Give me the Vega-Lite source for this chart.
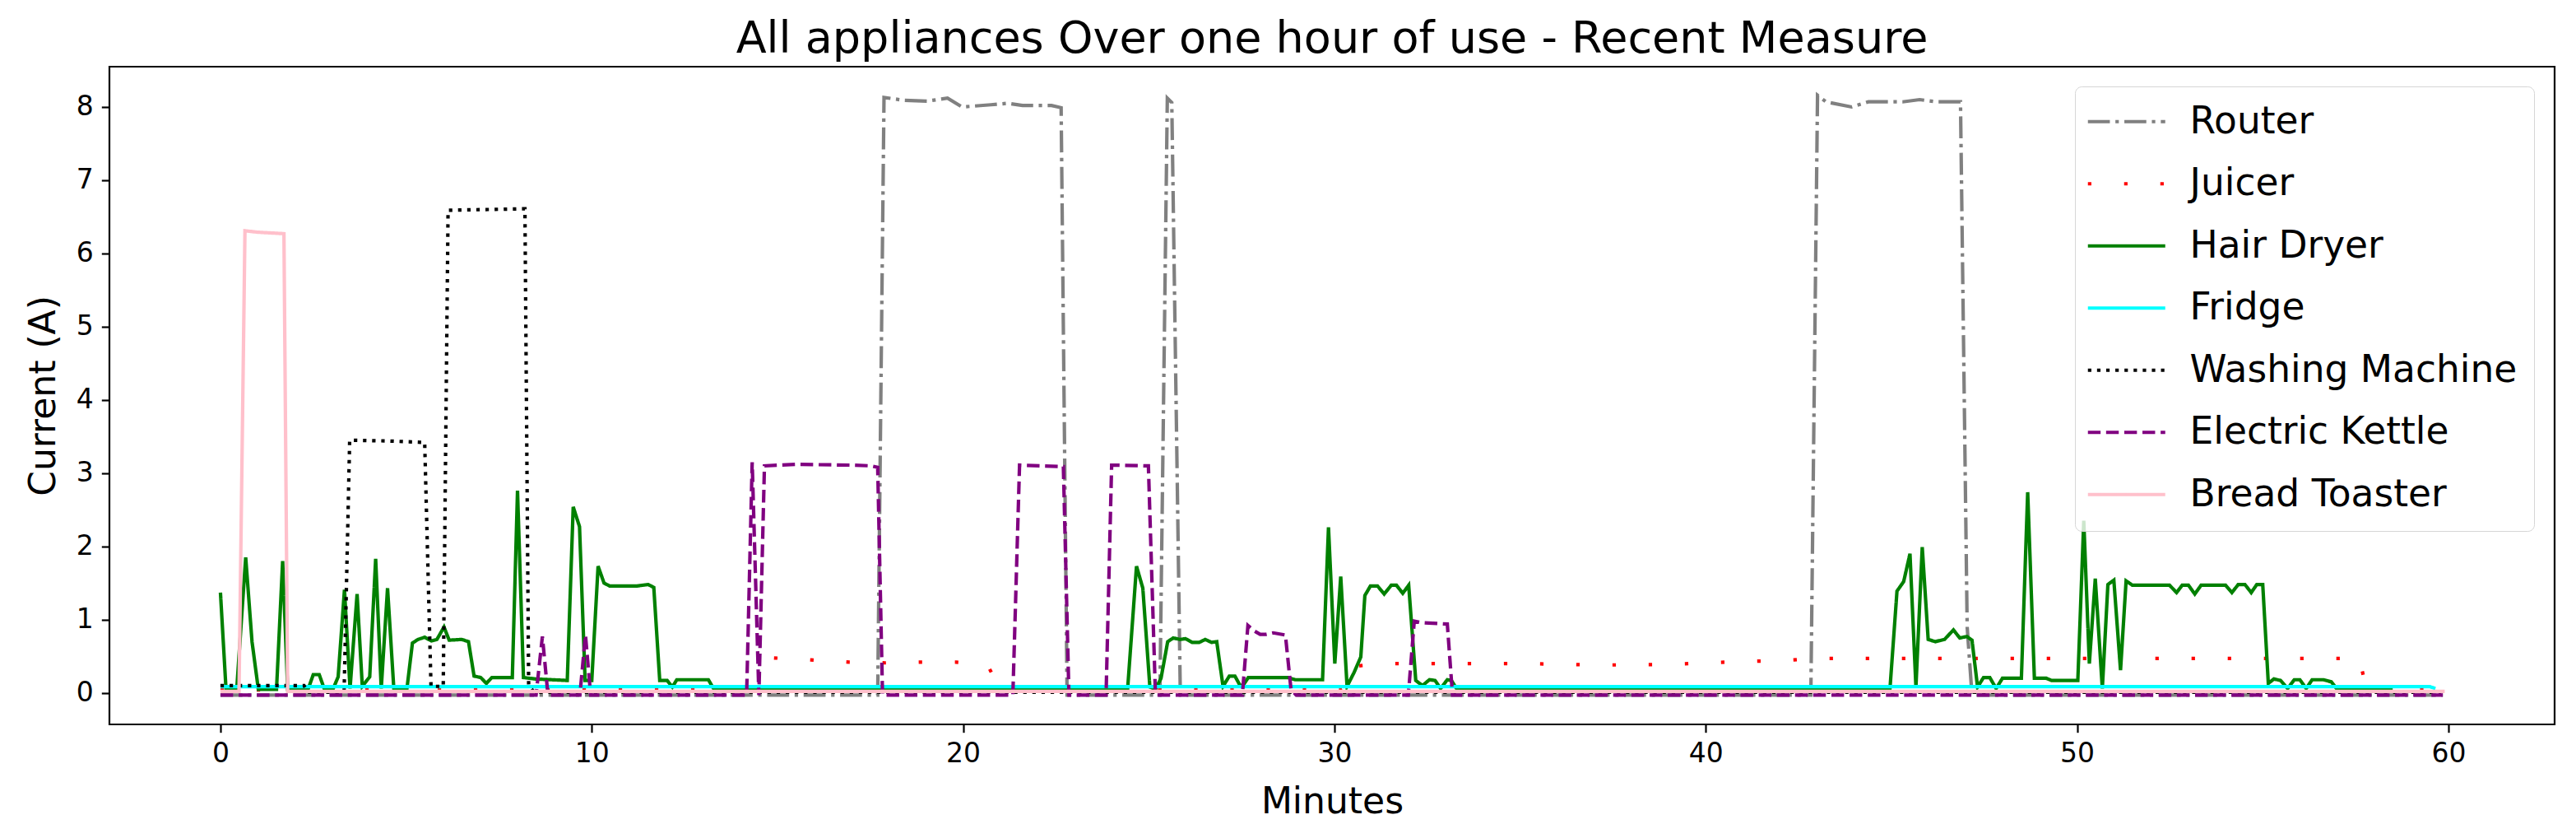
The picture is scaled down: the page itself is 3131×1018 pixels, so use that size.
{
  "$schema": "https://vega.github.io/schema/vega-lite/v6.json",
  "width": 2972,
  "height": 799,
  "autosize": {"type": "none"},
  "padding": {"left": 133, "top": 81, "right": 26, "bottom": 138},
  "background": "white",
  "title": {
    "text": "All appliances Over one hour of use - Recent Measure",
    "font": "DejaVu Sans",
    "fontSize": 54,
    "fontWeight": "normal",
    "color": "black",
    "anchor": "middle",
    "frame": "group",
    "baseline": "bottom",
    "offset": 7,
    "dy": 55
  },
  "data": {
    "values": [
      {"s": "Router", "t": 0, "v": -0.03},
      {"s": "Router", "t": 17.7, "v": -0.03},
      {"s": "Router", "t": 17.87, "v": 8.13},
      {"s": "Router", "t": 18.42, "v": 8.09},
      {"s": "Router", "t": 19.03, "v": 8.08},
      {"s": "Router", "t": 19.58, "v": 8.12},
      {"s": "Router", "t": 19.97, "v": 8.0},
      {"s": "Router", "t": 20.75, "v": 8.03},
      {"s": "Router", "t": 21.21, "v": 8.05},
      {"s": "Router", "t": 21.6, "v": 8.02},
      {"s": "Router", "t": 22.38, "v": 8.02},
      {"s": "Router", "t": 22.64, "v": 7.99},
      {"s": "Router", "t": 22.8, "v": -0.03},
      {"s": "Router", "t": 25.3, "v": -0.03},
      {"s": "Router", "t": 25.5, "v": 8.12},
      {"s": "Router", "t": 25.62, "v": 8.06},
      {"s": "Router", "t": 25.85, "v": -0.03},
      {"s": "Router", "t": 42.83, "v": -0.03},
      {"s": "Router", "t": 43.01, "v": 8.16},
      {"s": "Router", "t": 43.24, "v": 8.07},
      {"s": "Router", "t": 43.93, "v": 8.0},
      {"s": "Router", "t": 44.38, "v": 8.07},
      {"s": "Router", "t": 44.84, "v": 8.07},
      {"s": "Router", "t": 45.3, "v": 8.07},
      {"s": "Router", "t": 45.76, "v": 8.1},
      {"s": "Router", "t": 46.21, "v": 8.07},
      {"s": "Router", "t": 46.86, "v": 8.07},
      {"s": "Router", "t": 47.04, "v": 0.9},
      {"s": "Router", "t": 47.17, "v": -0.03},
      {"s": "Router", "t": 59.85, "v": -0.03},

      {"s": "Juicer", "t": 0, "v": 0.04},
      {"s": "Juicer", "t": 14.6, "v": 0.04},
      {"s": "Juicer", "t": 14.8, "v": 0.48},
      {"s": "Juicer", "t": 15.9, "v": 0.45},
      {"s": "Juicer", "t": 16.94, "v": 0.42},
      {"s": "Juicer", "t": 17.9, "v": 0.41},
      {"s": "Juicer", "t": 18.85, "v": 0.42},
      {"s": "Juicer", "t": 19.81, "v": 0.42},
      {"s": "Juicer", "t": 20.3, "v": 0.4},
      {"s": "Juicer", "t": 20.7, "v": 0.34},
      {"s": "Juicer", "t": 21.0, "v": 0.04},
      {"s": "Juicer", "t": 30.2, "v": 0.04},
      {"s": "Juicer", "t": 30.45, "v": 0.36},
      {"s": "Juicer", "t": 31.3, "v": 0.4},
      {"s": "Juicer", "t": 32.26, "v": 0.4},
      {"s": "Juicer", "t": 33.26, "v": 0.4},
      {"s": "Juicer", "t": 35.2, "v": 0.4},
      {"s": "Juicer", "t": 37.15, "v": 0.38},
      {"s": "Juicer", "t": 39.08, "v": 0.39},
      {"s": "Juicer", "t": 40.05, "v": 0.41},
      {"s": "Juicer", "t": 41.03, "v": 0.43},
      {"s": "Juicer", "t": 42.0, "v": 0.44},
      {"s": "Juicer", "t": 42.97, "v": 0.47},
      {"s": "Juicer", "t": 44.0, "v": 0.47},
      {"s": "Juicer", "t": 57.6, "v": 0.47},
      {"s": "Juicer", "t": 57.8, "v": 0.04},
      {"s": "Juicer", "t": 59.8, "v": 0.04},

      {"s": "Hair Dryer", "t": 0, "v": 1.37},
      {"s": "Hair Dryer", "t": 0.15, "v": 0.05},
      {"s": "Hair Dryer", "t": 0.44, "v": 0.06},
      {"s": "Hair Dryer", "t": 0.68, "v": 1.85},
      {"s": "Hair Dryer", "t": 0.85, "v": 0.7},
      {"s": "Hair Dryer", "t": 1.02, "v": 0.05},
      {"s": "Hair Dryer", "t": 1.51, "v": 0.05},
      {"s": "Hair Dryer", "t": 1.675, "v": 1.8},
      {"s": "Hair Dryer", "t": 1.81, "v": 0.05},
      {"s": "Hair Dryer", "t": 2.36, "v": 0.05},
      {"s": "Hair Dryer", "t": 2.5, "v": 0.25},
      {"s": "Hair Dryer", "t": 2.66, "v": 0.25},
      {"s": "Hair Dryer", "t": 2.8, "v": 0.05},
      {"s": "Hair Dryer", "t": 3.03, "v": 0.05},
      {"s": "Hair Dryer", "t": 3.17, "v": 0.22},
      {"s": "Hair Dryer", "t": 3.34, "v": 1.41},
      {"s": "Hair Dryer", "t": 3.49, "v": 0.06},
      {"s": "Hair Dryer", "t": 3.68, "v": 1.35},
      {"s": "Hair Dryer", "t": 3.82, "v": 0.09},
      {"s": "Hair Dryer", "t": 4.02, "v": 0.22},
      {"s": "Hair Dryer", "t": 4.18, "v": 1.83},
      {"s": "Hair Dryer", "t": 4.33, "v": 0.06},
      {"s": "Hair Dryer", "t": 4.5, "v": 1.43},
      {"s": "Hair Dryer", "t": 4.67, "v": 0.05},
      {"s": "Hair Dryer", "t": 5.02, "v": 0.05},
      {"s": "Hair Dryer", "t": 5.17, "v": 0.68},
      {"s": "Hair Dryer", "t": 5.32, "v": 0.73},
      {"s": "Hair Dryer", "t": 5.5, "v": 0.76},
      {"s": "Hair Dryer", "t": 5.68, "v": 0.71},
      {"s": "Hair Dryer", "t": 5.83, "v": 0.73},
      {"s": "Hair Dryer", "t": 6.02, "v": 0.9},
      {"s": "Hair Dryer", "t": 6.16, "v": 0.72},
      {"s": "Hair Dryer", "t": 6.5, "v": 0.73},
      {"s": "Hair Dryer", "t": 6.68, "v": 0.7},
      {"s": "Hair Dryer", "t": 6.83, "v": 0.23},
      {"s": "Hair Dryer", "t": 7.01, "v": 0.21},
      {"s": "Hair Dryer", "t": 7.16, "v": 0.13},
      {"s": "Hair Dryer", "t": 7.31, "v": 0.21},
      {"s": "Hair Dryer", "t": 7.86, "v": 0.21},
      {"s": "Hair Dryer", "t": 8.0, "v": 2.76},
      {"s": "Hair Dryer", "t": 8.16, "v": 0.21},
      {"s": "Hair Dryer", "t": 8.49, "v": 0.19},
      {"s": "Hair Dryer", "t": 9.34, "v": 0.17},
      {"s": "Hair Dryer", "t": 9.5, "v": 2.54},
      {"s": "Hair Dryer", "t": 9.67, "v": 2.27},
      {"s": "Hair Dryer", "t": 9.82, "v": 0.17},
      {"s": "Hair Dryer", "t": 10.0, "v": 0.17},
      {"s": "Hair Dryer", "t": 10.17, "v": 1.73},
      {"s": "Hair Dryer", "t": 10.33, "v": 1.5},
      {"s": "Hair Dryer", "t": 10.48, "v": 1.46},
      {"s": "Hair Dryer", "t": 11.22, "v": 1.46},
      {"s": "Hair Dryer", "t": 11.52, "v": 1.48},
      {"s": "Hair Dryer", "t": 11.67, "v": 1.44},
      {"s": "Hair Dryer", "t": 11.83, "v": 0.17},
      {"s": "Hair Dryer", "t": 12.03, "v": 0.17},
      {"s": "Hair Dryer", "t": 12.17, "v": 0.08},
      {"s": "Hair Dryer", "t": 12.29, "v": 0.18},
      {"s": "Hair Dryer", "t": 13.14, "v": 0.18},
      {"s": "Hair Dryer", "t": 13.29, "v": 0.05},
      {"s": "Hair Dryer", "t": 24.43, "v": 0.05},
      {"s": "Hair Dryer", "t": 24.67, "v": 1.73},
      {"s": "Hair Dryer", "t": 24.84, "v": 1.43},
      {"s": "Hair Dryer", "t": 25.03, "v": 0.08},
      {"s": "Hair Dryer", "t": 25.18, "v": 0.05},
      {"s": "Hair Dryer", "t": 25.33, "v": 0.2},
      {"s": "Hair Dryer", "t": 25.51, "v": 0.7},
      {"s": "Hair Dryer", "t": 25.66, "v": 0.75},
      {"s": "Hair Dryer", "t": 25.84, "v": 0.73},
      {"s": "Hair Dryer", "t": 25.99, "v": 0.74},
      {"s": "Hair Dryer", "t": 26.17, "v": 0.69},
      {"s": "Hair Dryer", "t": 26.36, "v": 0.69},
      {"s": "Hair Dryer", "t": 26.52, "v": 0.73},
      {"s": "Hair Dryer", "t": 26.69, "v": 0.69},
      {"s": "Hair Dryer", "t": 26.83, "v": 0.7},
      {"s": "Hair Dryer", "t": 27.0, "v": 0.09},
      {"s": "Hair Dryer", "t": 27.17, "v": 0.23},
      {"s": "Hair Dryer", "t": 27.32, "v": 0.23},
      {"s": "Hair Dryer", "t": 27.46, "v": 0.1},
      {"s": "Hair Dryer", "t": 27.55, "v": 0.11},
      {"s": "Hair Dryer", "t": 27.68, "v": 0.21},
      {"s": "Hair Dryer", "t": 28.75, "v": 0.21},
      {"s": "Hair Dryer", "t": 28.94, "v": 0.18},
      {"s": "Hair Dryer", "t": 29.68, "v": 0.18},
      {"s": "Hair Dryer", "t": 29.84, "v": 2.26},
      {"s": "Hair Dryer", "t": 30.01, "v": 0.4},
      {"s": "Hair Dryer", "t": 30.17, "v": 1.59},
      {"s": "Hair Dryer", "t": 30.34, "v": 0.09},
      {"s": "Hair Dryer", "t": 30.53, "v": 0.28},
      {"s": "Hair Dryer", "t": 30.71, "v": 0.49},
      {"s": "Hair Dryer", "t": 30.82, "v": 1.33},
      {"s": "Hair Dryer", "t": 30.97, "v": 1.46},
      {"s": "Hair Dryer", "t": 31.16, "v": 1.46},
      {"s": "Hair Dryer", "t": 31.34, "v": 1.35},
      {"s": "Hair Dryer", "t": 31.53, "v": 1.47},
      {"s": "Hair Dryer", "t": 31.67, "v": 1.47},
      {"s": "Hair Dryer", "t": 31.84, "v": 1.36},
      {"s": "Hair Dryer", "t": 32.0, "v": 1.47},
      {"s": "Hair Dryer", "t": 32.19, "v": 0.17},
      {"s": "Hair Dryer", "t": 32.37, "v": 0.1},
      {"s": "Hair Dryer", "t": 32.56, "v": 0.18},
      {"s": "Hair Dryer", "t": 32.71, "v": 0.17},
      {"s": "Hair Dryer", "t": 32.86, "v": 0.06},
      {"s": "Hair Dryer", "t": 33.04, "v": 0.18},
      {"s": "Hair Dryer", "t": 33.15, "v": 0.17},
      {"s": "Hair Dryer", "t": 33.3, "v": 0.05},
      {"s": "Hair Dryer", "t": 44.96, "v": 0.05},
      {"s": "Hair Dryer", "t": 45.15, "v": 1.39},
      {"s": "Hair Dryer", "t": 45.33, "v": 1.52},
      {"s": "Hair Dryer", "t": 45.5, "v": 1.9},
      {"s": "Hair Dryer", "t": 45.66, "v": 0.08},
      {"s": "Hair Dryer", "t": 45.83, "v": 1.99},
      {"s": "Hair Dryer", "t": 45.99, "v": 0.73},
      {"s": "Hair Dryer", "t": 46.18, "v": 0.7},
      {"s": "Hair Dryer", "t": 46.43, "v": 0.73},
      {"s": "Hair Dryer", "t": 46.67, "v": 0.86},
      {"s": "Hair Dryer", "t": 46.84, "v": 0.75},
      {"s": "Hair Dryer", "t": 47.03, "v": 0.77},
      {"s": "Hair Dryer", "t": 47.17, "v": 0.72},
      {"s": "Hair Dryer", "t": 47.32, "v": 0.08},
      {"s": "Hair Dryer", "t": 47.48, "v": 0.21},
      {"s": "Hair Dryer", "t": 47.65, "v": 0.21},
      {"s": "Hair Dryer", "t": 47.82, "v": 0.06},
      {"s": "Hair Dryer", "t": 47.99, "v": 0.2},
      {"s": "Hair Dryer", "t": 48.5, "v": 0.2},
      {"s": "Hair Dryer", "t": 48.67, "v": 2.74},
      {"s": "Hair Dryer", "t": 48.85, "v": 0.2},
      {"s": "Hair Dryer", "t": 49.17, "v": 0.2},
      {"s": "Hair Dryer", "t": 49.31, "v": 0.17},
      {"s": "Hair Dryer", "t": 50.02, "v": 0.17},
      {"s": "Hair Dryer", "t": 50.18, "v": 2.35},
      {"s": "Hair Dryer", "t": 50.33, "v": 0.4},
      {"s": "Hair Dryer", "t": 50.49, "v": 1.56},
      {"s": "Hair Dryer", "t": 50.68, "v": 0.06},
      {"s": "Hair Dryer", "t": 50.83, "v": 1.48},
      {"s": "Hair Dryer", "t": 50.99, "v": 1.54},
      {"s": "Hair Dryer", "t": 51.17, "v": 0.31},
      {"s": "Hair Dryer", "t": 51.32, "v": 1.53},
      {"s": "Hair Dryer", "t": 51.49, "v": 1.47},
      {"s": "Hair Dryer", "t": 52.49, "v": 1.47},
      {"s": "Hair Dryer", "t": 52.68, "v": 1.37},
      {"s": "Hair Dryer", "t": 52.83, "v": 1.47},
      {"s": "Hair Dryer", "t": 53.0, "v": 1.47},
      {"s": "Hair Dryer", "t": 53.17, "v": 1.35},
      {"s": "Hair Dryer", "t": 53.34, "v": 1.47},
      {"s": "Hair Dryer", "t": 54.0, "v": 1.47},
      {"s": "Hair Dryer", "t": 54.17, "v": 1.37},
      {"s": "Hair Dryer", "t": 54.34, "v": 1.48},
      {"s": "Hair Dryer", "t": 54.52, "v": 1.48},
      {"s": "Hair Dryer", "t": 54.69, "v": 1.37},
      {"s": "Hair Dryer", "t": 54.84, "v": 1.48},
      {"s": "Hair Dryer", "t": 55.0, "v": 1.48},
      {"s": "Hair Dryer", "t": 55.15, "v": 0.13},
      {"s": "Hair Dryer", "t": 55.3, "v": 0.19},
      {"s": "Hair Dryer", "t": 55.48, "v": 0.17},
      {"s": "Hair Dryer", "t": 55.67, "v": 0.06},
      {"s": "Hair Dryer", "t": 55.85, "v": 0.18},
      {"s": "Hair Dryer", "t": 56.0, "v": 0.18},
      {"s": "Hair Dryer", "t": 56.17, "v": 0.06},
      {"s": "Hair Dryer", "t": 56.33, "v": 0.18},
      {"s": "Hair Dryer", "t": 56.63, "v": 0.18},
      {"s": "Hair Dryer", "t": 56.85, "v": 0.15},
      {"s": "Hair Dryer", "t": 57.0, "v": 0.05},
      {"s": "Hair Dryer", "t": 58.5, "v": 0.05},

      {"s": "Fridge", "t": 0, "v": 0.085},
      {"s": "Fridge", "t": 20, "v": 0.085},
      {"s": "Fridge", "t": 40, "v": 0.085},
      {"s": "Fridge", "t": 59.5, "v": 0.085},
      {"s": "Fridge", "t": 59.65, "v": 0.06},

      {"s": "Washing Machine", "t": 0, "v": 0.1},
      {"s": "Washing Machine", "t": 2.25, "v": 0.1},
      {"s": "Washing Machine", "t": 2.35, "v": 0.01},
      {"s": "Washing Machine", "t": 3.33, "v": 0.01},
      {"s": "Washing Machine", "t": 3.48, "v": 3.45},
      {"s": "Washing Machine", "t": 4.5, "v": 3.44},
      {"s": "Washing Machine", "t": 5.5, "v": 3.42},
      {"s": "Washing Machine", "t": 5.67, "v": 0.09},
      {"s": "Washing Machine", "t": 6.0, "v": 0.09},
      {"s": "Washing Machine", "t": 6.13, "v": 6.59},
      {"s": "Washing Machine", "t": 7.2, "v": 6.6},
      {"s": "Washing Machine", "t": 8.2, "v": 6.61},
      {"s": "Washing Machine", "t": 8.3, "v": 0.1},
      {"s": "Washing Machine", "t": 8.45, "v": 0.01},
      {"s": "Washing Machine", "t": 59.8, "v": 0.01},

      {"s": "Electric Kettle", "t": 0, "v": -0.03},
      {"s": "Electric Kettle", "t": 8.5, "v": -0.03},
      {"s": "Electric Kettle", "t": 8.67, "v": 0.77},
      {"s": "Electric Kettle", "t": 8.82, "v": -0.03},
      {"s": "Electric Kettle", "t": 9.68, "v": -0.03},
      {"s": "Electric Kettle", "t": 9.83, "v": 0.79},
      {"s": "Electric Kettle", "t": 9.97, "v": -0.03},
      {"s": "Electric Kettle", "t": 14.17, "v": -0.03},
      {"s": "Electric Kettle", "t": 14.32, "v": 3.15},
      {"s": "Electric Kettle", "t": 14.5, "v": -0.03},
      {"s": "Electric Kettle", "t": 14.65, "v": 3.1},
      {"s": "Electric Kettle", "t": 15.5, "v": 3.12},
      {"s": "Electric Kettle", "t": 17.0, "v": 3.11},
      {"s": "Electric Kettle", "t": 17.52, "v": 3.1},
      {"s": "Electric Kettle", "t": 17.7, "v": 3.08},
      {"s": "Electric Kettle", "t": 17.83, "v": -0.03},
      {"s": "Electric Kettle", "t": 21.34, "v": -0.03},
      {"s": "Electric Kettle", "t": 21.52, "v": 3.11},
      {"s": "Electric Kettle", "t": 22.7, "v": 3.09},
      {"s": "Electric Kettle", "t": 22.85, "v": -0.03},
      {"s": "Electric Kettle", "t": 23.85, "v": -0.03},
      {"s": "Electric Kettle", "t": 24.0, "v": 3.11},
      {"s": "Electric Kettle", "t": 24.99, "v": 3.1},
      {"s": "Electric Kettle", "t": 25.18, "v": -0.03},
      {"s": "Electric Kettle", "t": 27.52, "v": -0.03},
      {"s": "Electric Kettle", "t": 27.67, "v": 0.92},
      {"s": "Electric Kettle", "t": 27.83, "v": 0.85},
      {"s": "Electric Kettle", "t": 28.0, "v": 0.8},
      {"s": "Electric Kettle", "t": 28.16, "v": 0.8},
      {"s": "Electric Kettle", "t": 28.35, "v": 0.82},
      {"s": "Electric Kettle", "t": 28.68, "v": 0.79},
      {"s": "Electric Kettle", "t": 28.83, "v": 0.05},
      {"s": "Electric Kettle", "t": 28.97, "v": -0.03},
      {"s": "Electric Kettle", "t": 31.99, "v": -0.03},
      {"s": "Electric Kettle", "t": 32.15, "v": 0.98},
      {"s": "Electric Kettle", "t": 32.33, "v": 0.96},
      {"s": "Electric Kettle", "t": 33.04, "v": 0.94},
      {"s": "Electric Kettle", "t": 33.18, "v": -0.03},
      {"s": "Electric Kettle", "t": 59.85, "v": -0.03},

      {"s": "Bread Toaster", "t": 0, "v": 0.02},
      {"s": "Bread Toaster", "t": 0.5, "v": 0.02},
      {"s": "Bread Toaster", "t": 0.66, "v": 6.31},
      {"s": "Bread Toaster", "t": 1.0, "v": 6.29},
      {"s": "Bread Toaster", "t": 1.71, "v": 6.27},
      {"s": "Bread Toaster", "t": 1.81, "v": 0.02},
      {"s": "Bread Toaster", "t": 59.9, "v": 0.02}
    ]
  },
  "mark": {"type": "line", "strokeWidth": 4.2},
  "encoding": {
    "x": {
      "field": "t",
      "type": "quantitative",
      "scale": {"domain": [-2.99, 62.86], "nice": false, "zero": false},
      "axis": {"title": "Minutes", "values": [0, 10, 20, 30, 40, 50, 60]}
    },
    "y": {
      "field": "v",
      "type": "quantitative",
      "scale": {"domain": [-0.43, 8.55], "nice": false, "zero": false},
      "axis": {"title": "Current (A)", "values": [0, 1, 2, 3, 4, 5, 6, 7, 8]}
    },
    "color": {
      "field": "s",
      "type": "nominal",
      "scale": {
        "domain": ["Router", "Juicer", "Hair Dryer", "Fridge", "Washing Machine", "Electric Kettle", "Bread Toaster"],
        "range": ["#808080", "#ff0000", "#008000", "#00ffff", "#000000", "#800080", "#ffc0cb"]
      },
      "legend": {"title": null, "orient": "none", "legendX": 2389, "legendY": 24}
    },
    "strokeDash": {
      "field": "s",
      "type": "nominal",
      "scale": {
        "domain": ["Router", "Juicer", "Hair Dryer", "Fridge", "Washing Machine", "Electric Kettle", "Bread Toaster"],
        "range": [[26.7, 6.7, 4.2, 6.7], [4.2, 39.8], [1, 0], [1, 0], [4.2, 6.9], [15.4, 6.7], [1, 0]]
      },
      "legend": {"title": null, "orient": "none", "legendX": 2389, "legendY": 24}
    }
  },
  "config": {
    "font": "DejaVu Sans",
    "view": {"stroke": "black", "strokeWidth": 2.2},
    "axis": {
      "grid": false,
      "domain": false,
      "ticks": true,
      "tickColor": "black",
      "tickWidth": 2.2,
      "tickSize": 9.7,
      "labelFont": "DejaVu Sans",
      "labelFontSize": 33,
      "labelColor": "black",
      "labelPadding": 10,
      "labelFlush": false,
      "titleFont": "DejaVu Sans",
      "titleFontSize": 44,
      "titleFontWeight": "normal",
      "titleColor": "black"
    },
    "axisX": {"titlePadding": 20},
    "axisY": {"titlePadding": 17},
    "legend": {
      "labelFont": "DejaVu Sans",
      "labelFontSize": 45.5,
      "labelColor": "black",
      "labelLimit": 0,
      "symbolType": "M-2.35,0H2.35",
      "symbolSize": 1600,
      "symbolStrokeWidth": 4.2,
      "symbolOffset": 20,
      "labelOffset": 54,
      "rowPadding": 28.5,
      "padding": 20,
      "strokeColor": "#d6d6d6",
      "fillColor": "rgba(255,255,255,0.8)",
      "cornerRadius": 8
    }
  }
}
